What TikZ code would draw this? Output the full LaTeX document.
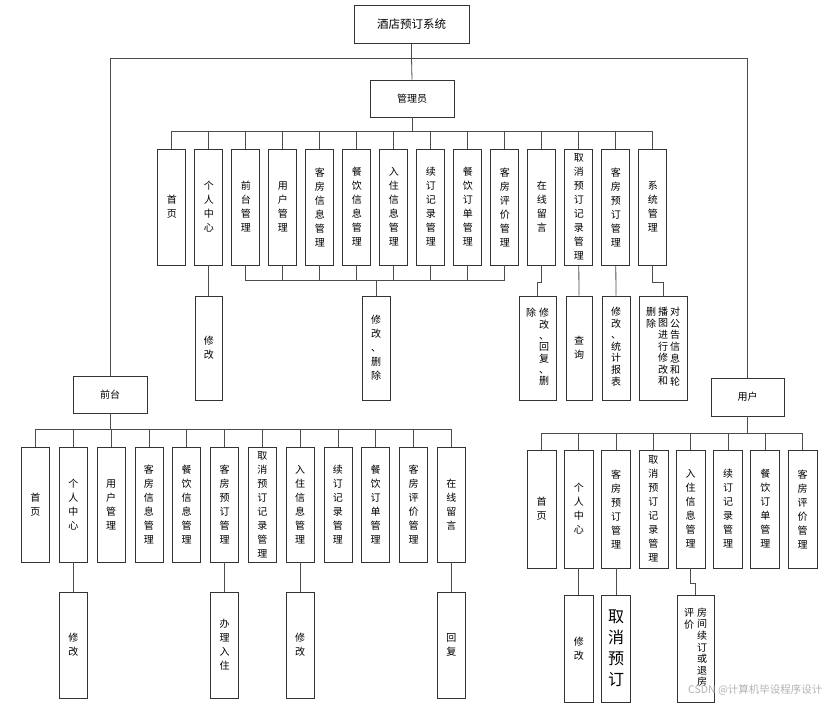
\documentclass[tikz,border=0pt]{standalone}
\usepackage{fontspec}
\setmainfont{Noto Sans CJK SC}
\newcommand\vt[1]{{\renewcommand\arraystretch{0.78}\begin{tabular}[t]{@{}c@{}}#1\end{tabular}}}
\begin{document}
\begin{tikzpicture}[x=1pt,y=-1pt,
  bx/.style={draw=black!80,line width=0.8pt,inner sep=0pt,align=center,font=\fontsize{10}{14}\selectfont},
  ln/.style={draw=black!70,line width=0.8pt}]
\useasboundingbox (0,0) rectangle (836,707);
\fill[white] (0,0) rectangle (836,707);
% top
\node[bx,minimum width=115,minimum height=38,font=\fontsize{11.5}{14}\selectfont] (root) at (411.5,24) {酒店预订系统};
\node[bx,minimum width=84,minimum height=37] (mgr) at (412,98.5) {管理员};
\node[bx,minimum width=74,minimum height=37] (ft) at (110,394.5) {前台};
\node[bx,minimum width=73,minimum height=38] (usr) at (747.5,397) {用户};
\coordinate (t1) at (411.5,58);
\draw[ln] (root.south) -- (t1) -- (mgr.north);
\draw[ln] (t1) -| (ft.north);
\draw[ln] (t1) -| (usr.north);
% admin row
\coordinate (ab) at (412,131);
\draw[ln] (mgr.south) -- (ab);
\foreach \t [count=\i from 0] in {{首\\页},{个\\人\\中\\心},{前\\台\\管\\理},{用\\户\\管\\理},{客\\房\\信\\息\\管\\理},{餐\\饮\\信\\息\\管\\理},{入\\住\\信\\息\\管\\理},{续\\订\\记\\录\\管\\理},{餐\\饮\\订\\单\\管\\理},{客\\房\\评\\价\\管\\理},{在\\线\\留\\言},{取\\消\\预\\订\\记\\录\\管\\理},{客\\房\\预\\订\\管\\理},{系\\统\\管\\理}}{
  \node[bx,minimum width=28,minimum height=116] (a\i) at (171.8+37*\i,207) {\t};
  \draw[ln] (a\i.north) |- (ab);
}
\node[bx,minimum width=27,minimum height=104] (ac1) at (208.8,348) {修\\改};
\node[bx,minimum width=28,minimum height=104] (ac2) at (376,348) {修\\改\\、\\删\\除};
\node[bx,minimum width=37,minimum height=104] (ac3) at (537.5,348) {\vt{除}\hspace{3pt}\vt{修\\改\\、\\回\\复\\、\\删}};
\node[bx,minimum width=26,minimum height=104] (ac4) at (579,348) {查\\询};
\node[bx,minimum width=28,minimum height=104] (ac5) at (616,348) {\vt{修\\改\\、\\统\\计\\报\\表}};
\node[bx,minimum width=48,minimum height=104] (ac6) at (663,348) {\vt{删\\除}\hspace{2pt}\vt{播\\图\\进\\行\\修\\改\\和}\hspace{2pt}\vt{对\\公\\告\\信\\息\\和\\轮}};
\coordinate (ab2) at (376,280);
\foreach \i in {2,...,9}{\draw[ln] (a\i.south) |- (ab2);}
\draw[ln] (ab2) -- (ac2.north);
\draw[ln] (a1.south) -- (ac1.north);
\draw[ln] (a10.south) -- ++(0,17) -| (ac3.north);
\draw[ln] (a11.south) -- (ac4.north);
\draw[ln] (a12.south) -- (ac5.north);
\draw[ln] (a13.south) -- ++(0,17) -| (ac6.north);
% front desk row
\coordinate (fb) at (110,429);
\draw[ln] (ft.south) -- (fb);
\foreach \t [count=\i from 0] in {{首\\页},{个\\人\\中\\心},{用\\户\\管\\理},{客\\房\\信\\息\\管\\理},{餐\\饮\\信\\息\\管\\理},{客\\房\\预\\订\\管\\理},{取\\消\\预\\订\\记\\录\\管\\理},{入\\住\\信\\息\\管\\理},{续\\订\\记\\录\\管\\理},{餐\\饮\\订\\单\\管\\理},{客\\房\\评\\价\\管\\理},{在\\线\\留\\言}}{
  \node[bx,minimum width=28,minimum height=115] (f\i) at (35.5+37.8*\i,504.5) {\t};
  \draw[ln] (f\i.north) |- (fb);
}
\node[bx,minimum width=28,minimum height=106] (fc1) at (f1|-0,645) {修\\改};
\node[bx,minimum width=28,minimum height=106] (fc5) at (f5|-0,645) {办\\理\\入\\住};
\node[bx,minimum width=28,minimum height=106] (fc7) at (f7|-0,645) {修\\改};
\node[bx,minimum width=28,minimum height=106] (fc11) at (f11|-0,645) {回\\复};
\foreach \i in {1,5,7,11}{\draw[ln] (f\i.south) -- (fc\i.north);}
% user row
\coordinate (ub) at (747.5,433);
\draw[ln] (usr.south) -- (ub);
\foreach \t [count=\i from 0] in {{首\\页},{个\\人\\中\\心},{客\\房\\预\\订\\管\\理},{取\\消\\预\\订\\记\\录\\管\\理},{入\\住\\信\\息\\管\\理},{续\\订\\记\\录\\管\\理},{餐\\饮\\订\\单\\管\\理},{客\\房\\评\\价\\管\\理}}{
  \node[bx,minimum width=29,minimum height=118] (u\i) at (541.5+37.3*\i,509) {\t};
  \draw[ln] (u\i.north) |- (ub);
}
\node[bx,minimum width=29,minimum height=107] (uc1) at (u1|-0,648.5) {修\\改};
\node[bx,minimum width=29,minimum height=107,font=\fontsize{16}{21}\selectfont] (uc2) at (u2|-0,648.5) {取\\消\\预\\订};
\node[bx,minimum width=37,minimum height=107] (uc4) at (695.5,648.5) {\vt{评\\价}\hspace{3pt}\vt{房\\间\\续\\订\\或\\退\\房}};
\draw[ln] (u1.south) -- (uc1.north);
\draw[ln] (u2.south) -- (uc2.north);
\draw[ln] (u4.south) -- ++(0,15) -| (uc4.north);
\node[text=black!30,font=\fontsize{10.5}{13}\selectfont,anchor=east] (wm) at (826,690) {CSDN @计算机毕设程序设计};
\end{tikzpicture}
\end{document}
